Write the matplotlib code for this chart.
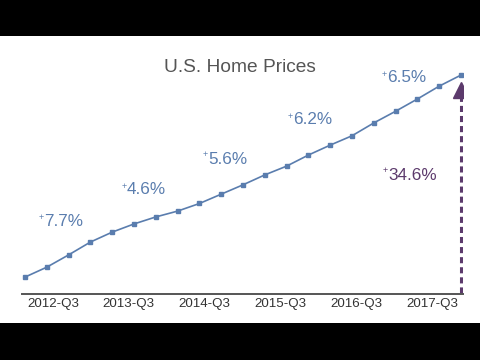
import numpy as np
import matplotlib
matplotlib.use("Agg")
import matplotlib.pyplot as plt
from matplotlib.patches import Rectangle

plt.rcParams['font.family'] = ['Liberation Sans', 'DejaVu Sans']

# Quarterly home price index, 2012-Q3 = 100
quarters = ["2012-Q3", "2012-Q4", "2013-Q1", "2013-Q2", "2013-Q3", "2013-Q4", "2014-Q1",
            "2014-Q2", "2014-Q3", "2014-Q4", "2015-Q1", "2015-Q2", "2015-Q3", "2015-Q4",
            "2016-Q1", "2016-Q2", "2016-Q3", "2016-Q4", "2017-Q1", "2017-Q2", "2017-Q3"]
index_values = [100.0, 101.7, 103.8, 106.0, 107.7, 109.1, 110.3, 111.3, 112.6, 114.2,
                115.8, 117.5, 119.0, 120.9, 122.6, 124.2, 126.4, 128.4, 130.5, 132.7, 134.6]
tick_labels = ["2012-Q3", "2013-Q3", "2014-Q3", "2015-Q3", "2016-Q3", "2017-Q3"]
yearly_changes = ["7.7%", "4.6%", "5.6%", "6.2%", "6.5%"]
total_change = "34.6%"

blue = "#5a7dae"
purple = "#5c3a6c"

fig = plt.figure(figsize=(4.8, 3.6), dpi=100, facecolor="black")
# white video frame between the black bars
fig.patches.append(Rectangle((0, 37 / 360), 1, 287 / 360, transform=fig.transFigure,
                             facecolor="white", edgecolor="none", zorder=-5))

ax = fig.add_axes([22 / 480, 66 / 360, 441 / 480, 254 / 360])
ax.patch.set_alpha(0)

x = np.arange(len(index_values))
ax.plot(x, index_values, color=blue, lw=1.2, marker="s", ms=3.2, zorder=3)

ax.set_xlim(-0.14, len(x) - 1 + 0.09)
ax.set_ylim(97.1, 140.6)

# total change arrow at the last quarter
tip = index_values[-1] - 1.4
ax.vlines(x[-1], 97.3, tip - 2.0, colors=purple, linestyles=(0, (2.0, 1.3)), lw=2.2, zorder=2)
ax.plot([x[-1]], [tip - 1.2], marker="^", ms=11, color=purple, mec=purple, zorder=4)

for s in ["top", "left", "right"]:
    ax.spines[s].set_visible(False)
ax.spines["bottom"].set_color("#555555")
ax.spines["bottom"].set_linewidth(1.4)
ax.set_yticks([])
ax.set_xticks(np.linspace(1.28, 18.67, len(tick_labels)))
ax.set_xticklabels(tick_labels, fontsize=9.6, color="#333333")
ax.tick_params(axis="x", length=0, pad=3)

fig.text(240 / 480, 1 - 68 / 360, "U.S. Home Prices", ha="center", va="center",
         fontsize=13.8, color="#555555")


def pct_label(px, py, label, color):
    fig.text(px / 480, 1 - py / 360, label, ha="left", va="center", fontsize=12.3, color=color)
    fig.text((px - 0.5) / 480, 1 - (py - 4) / 360, "+", ha="right", va="center",
             fontsize=6.5, color=color)


label_pos = [(44, 222), (127, 190), (208, 159), (293, 120), (387, 78)]
for (px, py), lab in zip(label_pos, yearly_changes):
    pct_label(px, py, lab, blue)
pct_label(388, 175, total_change, purple)

fig.savefig("out.png", dpi=100, facecolor=fig.get_facecolor())
